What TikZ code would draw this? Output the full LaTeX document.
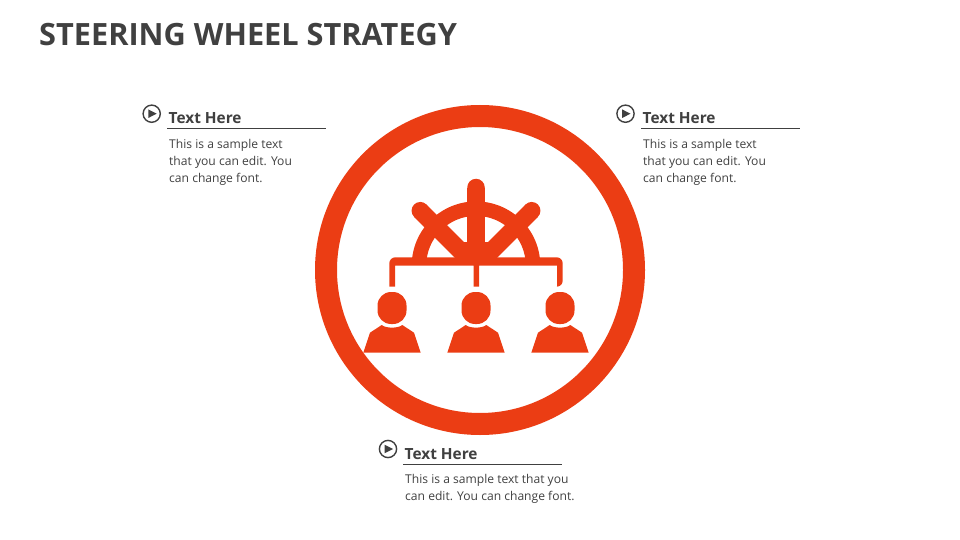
\documentclass[tikz,border=0pt]{standalone}
\usepackage{fontspec}
\setmainfont{Open Sans}
\definecolor{brand}{HTML}{EB3D14}
\definecolor{ink}{HTML}{404040}
\tikzset{
  x=1pt,y=-1pt,
  ring/.style={draw=brand,line width=22pt},
  spoke/.style={draw=brand,line width=17.5pt},
  titletext/.style={anchor=base west,inner sep=0pt,text=ink,font=\fontsize{30.7}{36}\selectfont\bfseries},
  headtext/.style={anchor=base west,inner sep=0pt,text=ink,font=\fontsize{15.4}{18}\selectfont\bfseries},
  bodytext/.style={anchor=base west,inner sep=0pt,text=ink,font=\fontsize{12.1}{17}\selectfont},
  rulepen/.style={draw=ink,line width=1pt},
  iconpen/.style={draw=ink,line width=1.4pt},
  person/.pic={
    \fill[brand,rounded corners=13.5pt] (-14.5,292) rectangle (14.5,324);
    \fill[brand] (-28.7,352.7) -- (-22,332.7) -- (-10.3,325)
      .. controls (-6,328.5) and (6,328.5) .. (10.3,325)
      -- (22,332.7) -- (28.7,352.7) -- cycle;
  },
  playicon/.pic={
    \draw[iconpen] (0,0) circle[radius=8.6];
    \fill[ink] (-3.4,-4.3) -- (-3.4,4.3) -- (5,0) -- cycle;
  }
}
\begin{document}
\begin{tikzpicture}
\useasboundingbox (0,0) rectangle (960,540);
\node[titletext] (title) at (39,45.5) {STEERING WHEEL STRATEGY};

% big ring
\draw[ring] (480,270) circle[radius=154];

% wheel
\begin{scope}
  \clip (400,170) rectangle (552,258);
  \fill[brand,even odd rule] (476,265.7) circle[radius=64.3] (476,265.7) circle[radius=49.8];
  \draw[spoke] (476,187.5) -- (476,262);
  \draw[spoke] (420.3,210.7) -- (476,266.4);
  \draw[spoke] (531.7,210.7) -- (476,266.4);
  \fill[brand] (464,241.7) -- (488,241.7) -- (488,250) -- (464,250) -- cycle;
\end{scope}
\fill[brand] (476,187.5) circle[radius=8.75];
\fill[brand] (420.3,210.7) circle[radius=8.75];
\fill[brand] (531.7,210.7) circle[radius=8.75];

% bracket
\fill[brand,rounded corners=6pt] (389.3,286.7) -- (389.3,257.3) -- (562.7,257.3) -- (562.7,286.7) [sharp corners] -- (557,286.7) -- (557,265.5) -- (479,265.5) -- (479,286.7) -- (473.5,286.7) -- (473.5,265.5) -- (395,265.5) -- (395,286.7) -- cycle;

% people
\pic at (392,0) {person};
\pic at (476,0) {person};
\pic at (560,0) {person};

% left block
\pic at (151.7,113.7) {playicon};
\node[headtext] (h1) at (168.5,123.5) {Text Here};
\coordinate (r1a) at (167,128.5);
\coordinate (r1b) at (326,128.5);
\draw[rulepen] (r1a) -- (r1b);
\node[bodytext] (b1a) at (169,148.7) {This is a sample text};
\node[bodytext] (b1b) at (169,165.7) {that you can edit. You};
\node[bodytext] (b1c) at (169,182.7) {can change font.};

% right block
\pic at (625.5,113.7) {playicon};
\node[headtext] (h2) at (642.5,123.5) {Text Here};
\coordinate (r2a) at (641,128.5);
\coordinate (r2b) at (800,128.5);
\draw[rulepen] (r2a) -- (r2b);
\node[bodytext] (b2a) at (643,148.7) {This is a sample text};
\node[bodytext] (b2b) at (643,165.7) {that you can edit. You};
\node[bodytext] (b2c) at (643,182.7) {can change font.};

% bottom block
\pic at (388,449) {playicon};
\node[headtext] (h3) at (404.5,459.2) {Text Here};
\coordinate (r3a) at (403,464.2);
\coordinate (r3b) at (562,464.2);
\draw[rulepen] (r3a) -- (r3b);
\node[bodytext] (b3a) at (405,483.4) {This is a sample text that you};
\node[bodytext] (b3b) at (405,500.4) {can edit. You can change font.};
\end{tikzpicture}
\end{document}
